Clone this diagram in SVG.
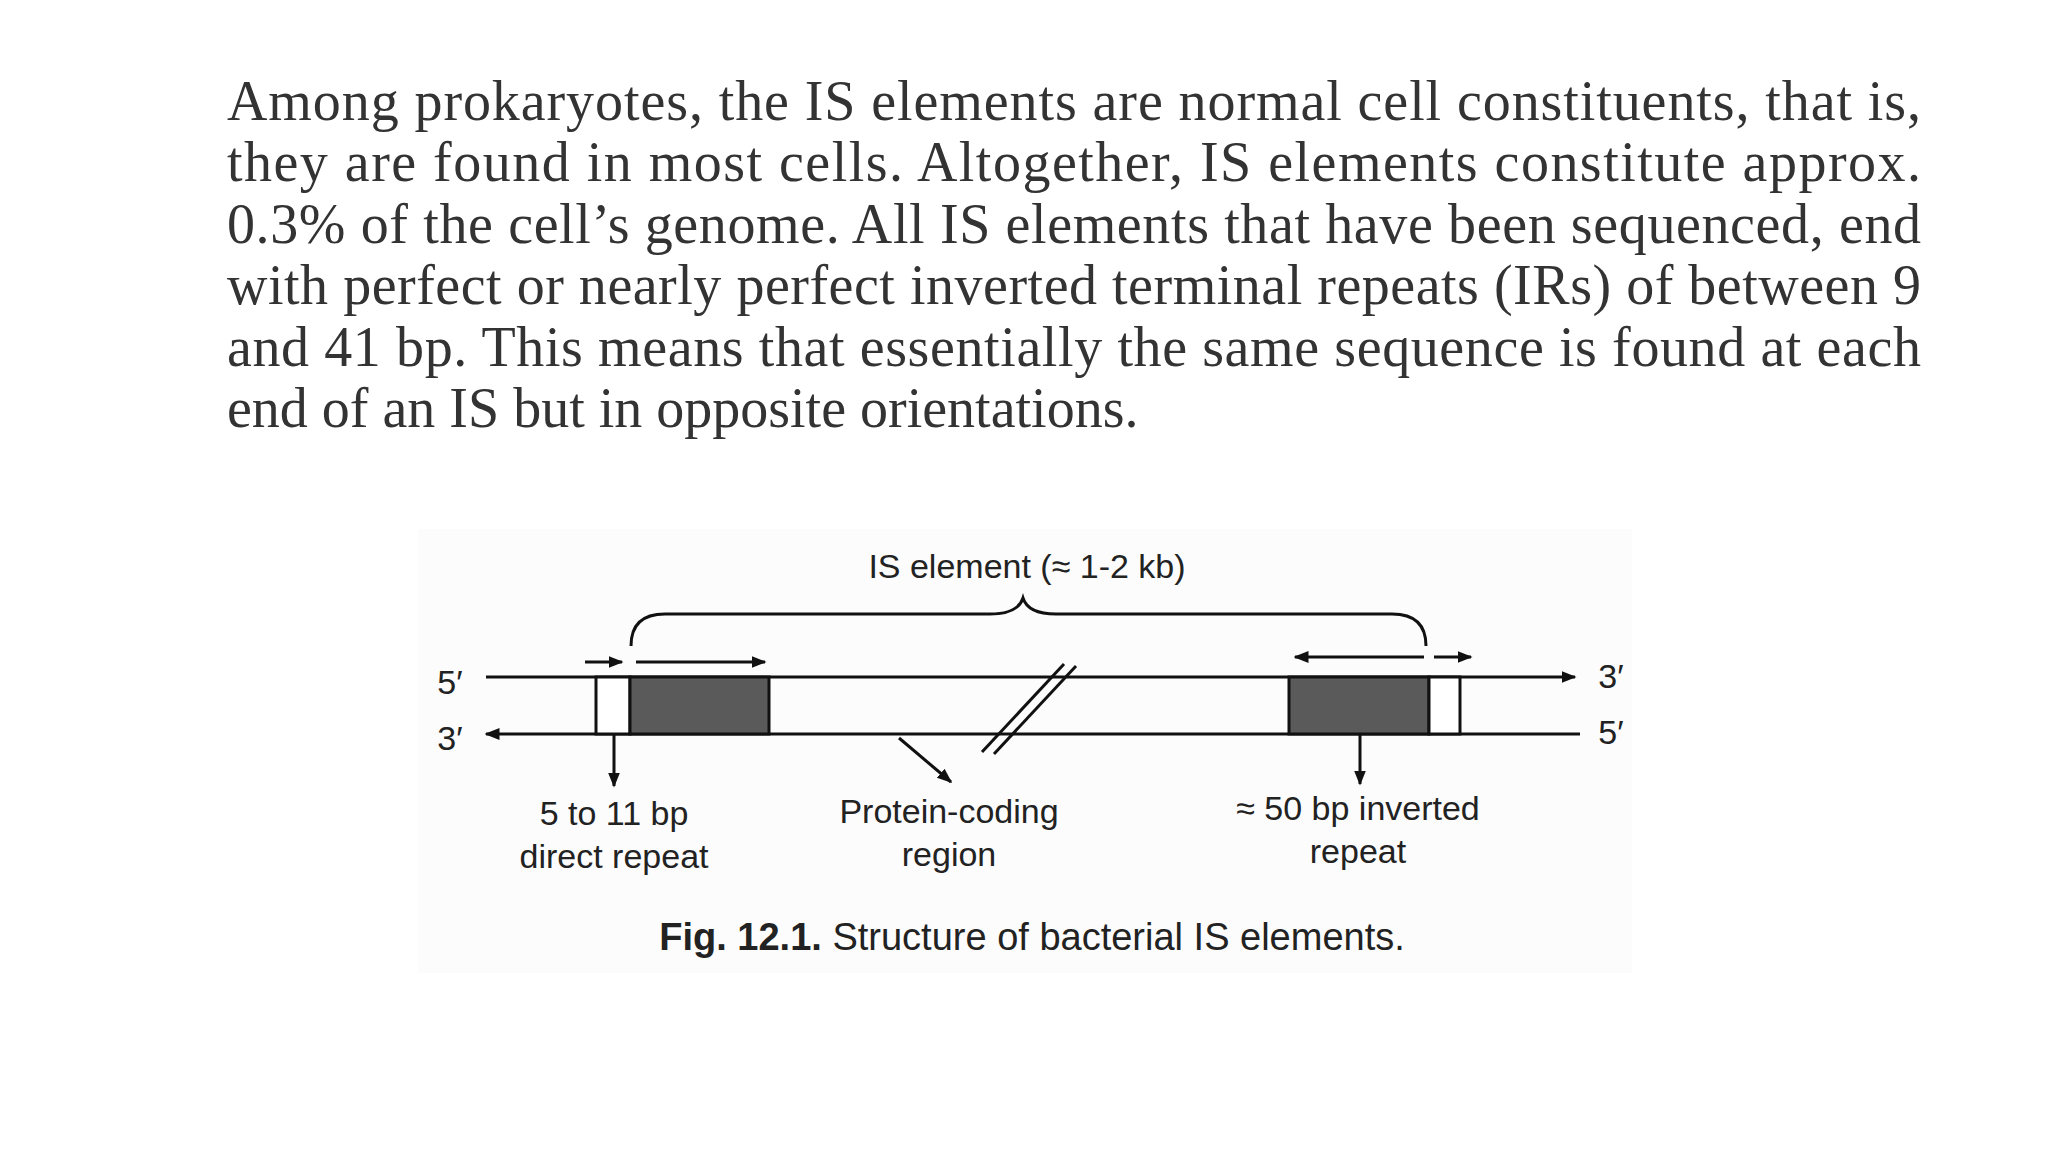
<svg xmlns="http://www.w3.org/2000/svg" width="2048" height="1152" viewBox="0 0 2048 1152">
<style>
.p{font-family:"Liberation Serif",serif;font-size:56px;fill:#333}
.l{font-family:"Liberation Sans",Arial,sans-serif;font-size:34px;fill:#222;text-anchor:middle}
.s{stroke:#111;stroke-width:3;fill:none}
.b{fill:#5a5a5a;stroke:#111;stroke-width:3}
</style>
<defs><marker id="a" viewBox="0 0 10 10" refX="9" refY="5" markerWidth="5" markerHeight="5" orient="auto"><path d="M0,1 L10,5 L0,9 z" fill="#111"/></marker></defs>
<rect width="2048" height="1152" fill="#fff"/>
<g id="paragraph">
<text class="p" x="227" y="120" textLength="1694" lengthAdjust="spacing">Among prokaryotes, the IS elements are normal cell constituents, that is,</text>
<text class="p" x="227" y="181" textLength="1694" lengthAdjust="spacing">they are found in most cells. Altogether, IS elements constitute approx.</text>
<text class="p" x="227" y="243" textLength="1694" lengthAdjust="spacing">0.3% of the cell’s genome. All IS elements that have been sequenced, end</text>
<text class="p" x="227" y="304" textLength="1694" lengthAdjust="spacing">with perfect or nearly perfect inverted terminal repeats (IRs) of between 9</text>
<text class="p" x="227" y="366" textLength="1694" lengthAdjust="spacing">and 41 bp. This means that essentially the same sequence is found at each</text>
<text class="p" x="227" y="427">end of an IS but in opposite orientations.</text>
</g>
<rect x="418" y="529" width="1214" height="444" fill="#fcfcfc"/>
<g id="title"><text class="l" x="1027" y="578">IS element (≈ 1-2 kb)</text></g>
<g id="brace"><path class="s" d="M631,646 Q631,614 665,614 L990,614 Q1018,614 1023,598 Q1028,614 1056,614 L1392,614 Q1426,614 1426,646"/></g>
<g id="strands">
<line class="s" x1="486" y1="677" x2="1575" y2="677" marker-end="url(#a)"/>
<line class="s" x1="1580" y1="734" x2="486" y2="734" marker-end="url(#a)"/>
<text class="l" x="450" y="694">5′</text><text class="l" x="450" y="750">3′</text>
<text class="l" x="1611" y="688">3′</text><text class="l" x="1611" y="744">5′</text>
</g>
<g id="left-repeat"><rect x="596" y="677" width="34" height="57" fill="#fff" stroke="#111" stroke-width="3"/><rect class="b" x="630" y="677" width="139" height="57"/></g>
<g id="right-repeat"><rect class="b" x="1289" y="677" width="140" height="57"/><rect x="1429" y="677" width="31" height="57" fill="#fff" stroke="#111" stroke-width="3"/></g>
<g id="break"><line class="s" x1="982" y1="752" x2="1064" y2="664"/><line class="s" x1="994" y1="754" x2="1076" y2="666"/></g>
<g id="connectors">
<line class="s" x1="585" y1="662" x2="622" y2="662" marker-end="url(#a)"/>
<line class="s" x1="636" y1="662" x2="765" y2="662" marker-end="url(#a)"/>
<line class="s" x1="1424" y1="657" x2="1295" y2="657" marker-end="url(#a)"/>
<line class="s" x1="1434" y1="657" x2="1471" y2="657" marker-end="url(#a)"/>
<line class="s" x1="614" y1="734" x2="614" y2="786" marker-end="url(#a)"/>
<line class="s" x1="1360" y1="734" x2="1360" y2="784" marker-end="url(#a)"/>
<line class="s" x1="899" y1="738" x2="951" y2="782" marker-end="url(#a)"/>
</g>
<g id="labels">
<text class="l" x="614" y="825">5 to 11 bp</text><text class="l" x="614" y="868">direct repeat</text>
<text class="l" x="949" y="823">Protein-coding</text><text class="l" x="949" y="866">region</text>
<text class="l" x="1358" y="820">≈ 50 bp inverted</text><text class="l" x="1358" y="863">repeat</text>
</g>
<g id="caption"><text class="l" x="1032" y="950" style="font-size:38px"><tspan font-weight="bold">Fig. 12.1.</tspan> Structure of bacterial IS elements.</text></g>
</svg>
